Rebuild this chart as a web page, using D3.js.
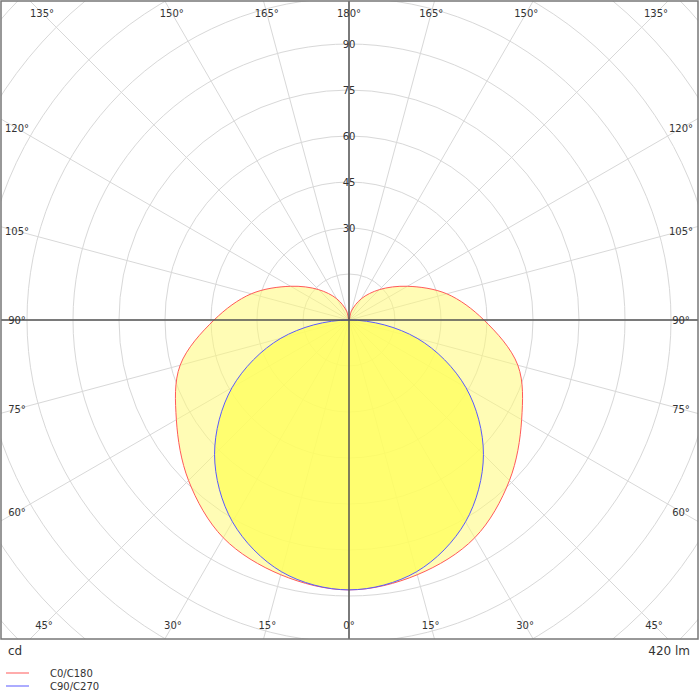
<!DOCTYPE html><html><head><meta charset="utf-8"><script src="https://cdn.jsdelivr.net/npm/d3@7"></script>
<style>body{margin:0;background:#fff}text{font-family:"DejaVu Sans",sans-serif;font-size:10px;fill:#333}</style></head><body><svg id="c" width="700" height="700"></svg>
<script>
const angles=[0,15,30,45,60,75,90,105,120,135,150,165,180];
const c0c180=[88,86,82,74,65,57,44,33,22,14,8,3,0];
const c90c270=[88,85,76,62,44,23,0,0,0,0,0,0,0];
const ringLabels=[30,45,60,75,90];
const seriesNames=["C0/C180","C90/C270"];
const svg=d3.select("#c");
const cx=349,cy=320,L=1,R=698,T=1,B=639;
const r=d3.scaleLinear().domain([0,15]).range([0,46]);
const g=svg.append("g");
svg.append("defs").append("clipPath").attr("id","cl").append("rect").attr("x",L).attr("y",T).attr("width",R-L).attr("height",B-T);
const p=g.append("g").attr("clip-path","url(#cl)");
for(let v=15;v<=240;v+=15)p.append("circle").attr("cx",cx).attr("cy",cy).attr("r",r(v)).attr("fill","none").attr("stroke","#d8d8d8");
for(let a=0;a<360;a+=15){const t=a*Math.PI/180;p.append("line").attr("x1",cx).attr("y1",cy).attr("x2",cx+1000*Math.sin(t)).attr("y2",cy+1000*Math.cos(t)).attr("stroke","#d8d8d8");}
function pts(vals){const a=[];angles.forEach((d,i)=>a.push([Math.PI-d*Math.PI/180,r(vals[i])]));for(let i=angles.length-2;i>0;i--)a.push([Math.PI+angles[i]*Math.PI/180,r(vals[i])]);return a;}
const line=d3.lineRadial().curve(d3.curveCatmullRomClosed.alpha(0.5));
p.append("path").attr("transform",`translate(${cx},${cy})`).attr("d",line(pts(c0c180))).attr("fill","rgba(255,250,120,0.55)").attr("stroke","#ff5a5a").attr("stroke-width",1);
const bp=c90c270.map((v,i)=>[Math.PI-angles[i]*Math.PI/180,r(v)]).filter((d,i)=>angles[i]<=90);
const bl=[];for(let d=0;d<=90;d+=3){}
const bpts=[];angles.filter(a=>a<=90).forEach((a,i)=>bpts.push([Math.PI-a*Math.PI/180,r(c90c270[i])]));for(let i=5;i>0;i--)bpts.push([Math.PI+angles[i]*Math.PI/180,r(c90c270[i])]);
p.append("path").attr("transform",`translate(${cx},${cy})`).attr("d",line(bpts)).attr("fill","rgba(255,255,90,0.75)").attr("stroke","#5a5aff").attr("stroke-width",1);
p.append("line").attr("x1",L).attr("x2",R).attr("y1",cy).attr("y2",cy).attr("stroke","#555").attr("stroke-width",1.5);
p.append("line").attr("x1",cx).attr("x2",cx).attr("y1",T).attr("y2",B).attr("stroke","#555").attr("stroke-width",1.5);
ringLabels.forEach(v=>g.append("text").attr("x",cx).attr("y",cy-r(v)+4).attr("text-anchor","middle").text(v));
// angle labels
const iL=17,iR=681,iT=13,iB=625;
for(let a=0;a<360;a+=15){if(a%90===0&&a!==0&&a!==180&&a!==90&&a!==270)continue;const t=a*Math.PI/180,dx=Math.sin(t),dy=Math.cos(t);
let s=Infinity;if(dx>1e-9)s=Math.min(s,(iR-cx)/dx);if(dx<-1e-9)s=Math.min(s,(iL-cx)/dx);if(dy>1e-9)s=Math.min(s,(iB-cy)/dy);if(dy<-1e-9)s=Math.min(s,(iT-cy)/dy);
const lab=a<=180?a:360-a;g.append("text").attr("x",cx+s*dx).attr("y",cy+s*dy+4).attr("text-anchor","middle").text(lab+"°");}
g.append("rect").attr("x",L).attr("y",T).attr("width",R-L).attr("height",B-T).attr("fill","none").attr("stroke","#777").attr("stroke-width",1.5);
svg.append("text").attr("x",8).attr("y",655).style("font-size","12px").text("cd");
svg.append("text").attr("x",690).attr("y",655).attr("text-anchor","end").style("font-size","12px").text("420 lm");
const lc=["#ff9090","#9090ff"];
seriesNames.forEach((n,i)=>{const y=673+i*13;svg.append("line").attr("x1",6).attr("x2",29).attr("y1",y).attr("y2",y).attr("stroke",lc[i]).attr("stroke-width",1.5);svg.append("text").attr("x",50).attr("y",y+4).text(n);});
</script></body></html>
